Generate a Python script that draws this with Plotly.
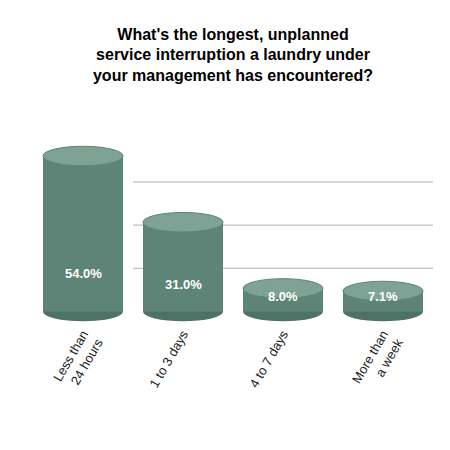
import plotly.graph_objects as go

categories = ["Less than<br>24 hours", "1 to 3 days", "4 to 7 days", "More than<br>a week"]
values = [54.0, 31.0, 8.0, 7.1]
labels = ["54.0%", "31.0%", "8.0%", "7.1%"]

xs = list(range(len(values)))
width = 0.8
cap = 3.4  # half-height of the elliptic caps, in data units

fig = go.Figure()
fig.add_trace(go.Bar(
    x=xs, y=values, width=width,
    marker=dict(color="#5d8476", line=dict(width=0)),
    hoverinfo="skip",
))

shapes = []
# gridlines
for g in [15, 30, 45]:
    shapes.append(dict(type="line", xref="paper", yref="y", x0=0.25, x1=1.0,
                       y0=g, y1=g, line=dict(color="#b0b0b0", width=1), layer="below"))
for x, v in zip(xs, values):
    shapes.append(dict(type="circle", xref="x", yref="y",
                       x0=x - width / 2, x1=x + width / 2, y0=-cap, y1=cap,
                       fillcolor="#4f7266", line=dict(width=0), layer="below"))
    shapes.append(dict(type="circle", xref="x", yref="y",
                       x0=x - width / 2, x1=x + width / 2, y0=v - cap, y1=v + cap,
                       fillcolor="#7ea294", line=dict(color="#5d8476", width=1), layer="above"))

annotations = []
for x, v, t in zip(xs, values, labels):
    annotations.append(dict(x=x, y=min(v - 1.5, 4 + v * 0.17), xref="x", yref="y",
                            text="<b>" + t + "</b>", showarrow=False,
                            font=dict(color="white", size=13, family="Arial, Liberation Sans")))

fig.update_layout(
    width=450, height=450,
    margin=dict(l=25, r=25, t=125, b=135),
    paper_bgcolor="white", plot_bgcolor="white",
    showlegend=False,
    shapes=shapes,
    annotations=annotations,
    title=dict(
        text="<b>What's the longest, unplanned<br>service interruption a laundry under<br>your management has encountered?</b>",
        x=0.5, xanchor="center", y=0.93, yanchor="top",
        font=dict(family="Arial, Liberation Sans", size=16, color="black"),
    ),
    xaxis=dict(tickvals=xs, ticktext=categories, tickangle=-60, range=[-0.5, 3.5],
               showgrid=False, zeroline=False, showline=False,
               tickfont=dict(family="Arial, Liberation Sans", size=13, color="#222")),
    yaxis=dict(range=[-4, 62], visible=False),
)

fig.write_html("out.html")
